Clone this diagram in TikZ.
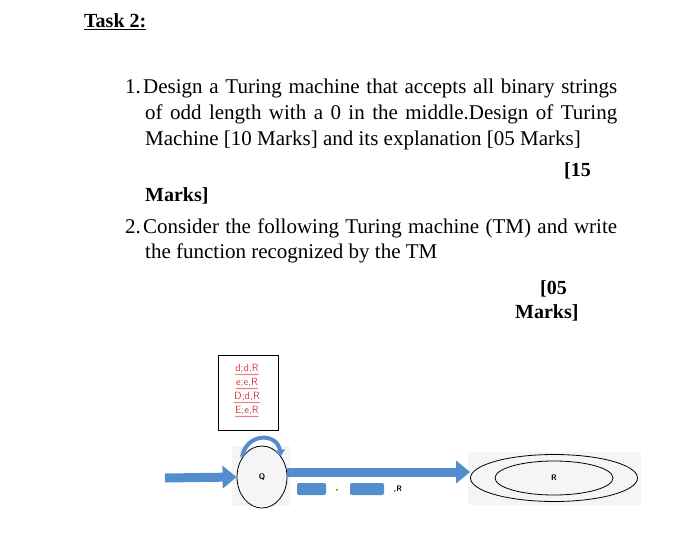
\documentclass[tikz,border=0pt]{standalone}
\usepackage{fontspec}
\setmainfont{Liberation Serif}
\usetikzlibrary{arrows.meta,decorations.pathmorphing,shapes.geometric}
\definecolor{tmblue}{RGB}{84,141,205}
\definecolor{tmred}{RGB}{214,60,70}
\tikzset{
 txt/.style={anchor=base west,inner sep=0pt,font=\fontsize{21}{24}\selectfont},
 bld/.style={txt,font=\fontsize{20}{24}\selectfont\bfseries},
 fat/.style={draw=tmblue,line width=9pt,-{Triangle[length=14pt,width=22pt]}},
 tape/.style={fill=tmblue,rounded corners=2pt,draw=none},
 lab/.style={font=\sffamily\fontsize{8}{9}\selectfont\bfseries}
}
\begin{document}
\begin{tikzpicture}[x=1pt,y=-1pt]
\useasboundingbox[fill=white](0,0) rectangle (700,540);
\node[bld] (task) at (84,28) {\underline{Task 2:}};
\node[txt] (n1) at (125,94) {1.};
\node[txt] (l1) at (143,94) {\makebox[474pt][s]{Design a Turing machine that accepts all binary strings}};
\node[txt] (l2) at (145,120) {\makebox[472pt][s]{of odd length with a 0 in the middle.Design of Turing}};
\node[txt] (l3) at (145,146) {Machine [10 Marks] and its explanation [05 Marks]};
\node[bld] (m15) at (564,176) {[15};
\node[bld] (m15b) at (145,201) {Marks]};
\node[txt] (n2) at (125,233) {2.};
\node[txt] (l4) at (143,233) {\makebox[474pt][s]{Consider the following Turing machine (TM) and write}};
\node[txt] (l5) at (145,258) {the function recognized by the TM};
\node[bld] (m05) at (540,294) {[05};
\node[bld] (m05b) at (515,318) {Marks]};
% diagram
\node[draw,thick,minimum width=60pt,minimum height=75pt,anchor=north west] (box) at (218,355) {};
\foreach \t [count=\i] in {{d;d,R},{e;e,R},{D;d,R},{E;e,R}}{
  \node[font=\sffamily\fontsize{10.5}{10}\selectfont,text=tmred,inner sep=0pt] (t\i) at (247,362+\i*14-7) {\t};
  \draw[tmred,decorate,decoration={snake,amplitude=0.5pt,segment length=2pt}] ([yshift=-1pt]t\i.south west) -- ([yshift=-1pt]t\i.south east);
}
\fill[gray!8] (232,446) rectangle (290,506);
\node[draw,thick,ellipse,minimum width=50pt,minimum height=62pt,inner sep=0pt] (Q) at (262,477) {};
\node[lab] (ql) at (262,477) {Q};
\draw[tmblue,line width=4pt,-{Triangle[length=6pt,width=10pt]}] (242,457) to[out=80,in=100,looseness=1.6] (281,456);
\coordinate (in) at (165,478);
\draw[fat] (in) -- (Q.west);
\fill[gray!8] (468,452) rectangle (641,505);
\node[draw,thick,ellipse,minimum width=167pt,minimum height=47pt] (Ro) at (554,478) {};
\node[draw,thick,ellipse,minimum width=118pt,minimum height=34pt] (R) at (554,478) {};
\node[lab] (rl) at (554,478) {R};
\draw[fat] (Q.east|-0,472) -- (Ro.west|-0,472);
\fill[tape] (297,483) rectangle (326,495);
\node[lab] (c1) at (337,490) {,};
\fill[tape] (350,483) rectangle (384,495);
\node[lab] (c2) at (398,489) {,R};
\end{tikzpicture}
\end{document}
